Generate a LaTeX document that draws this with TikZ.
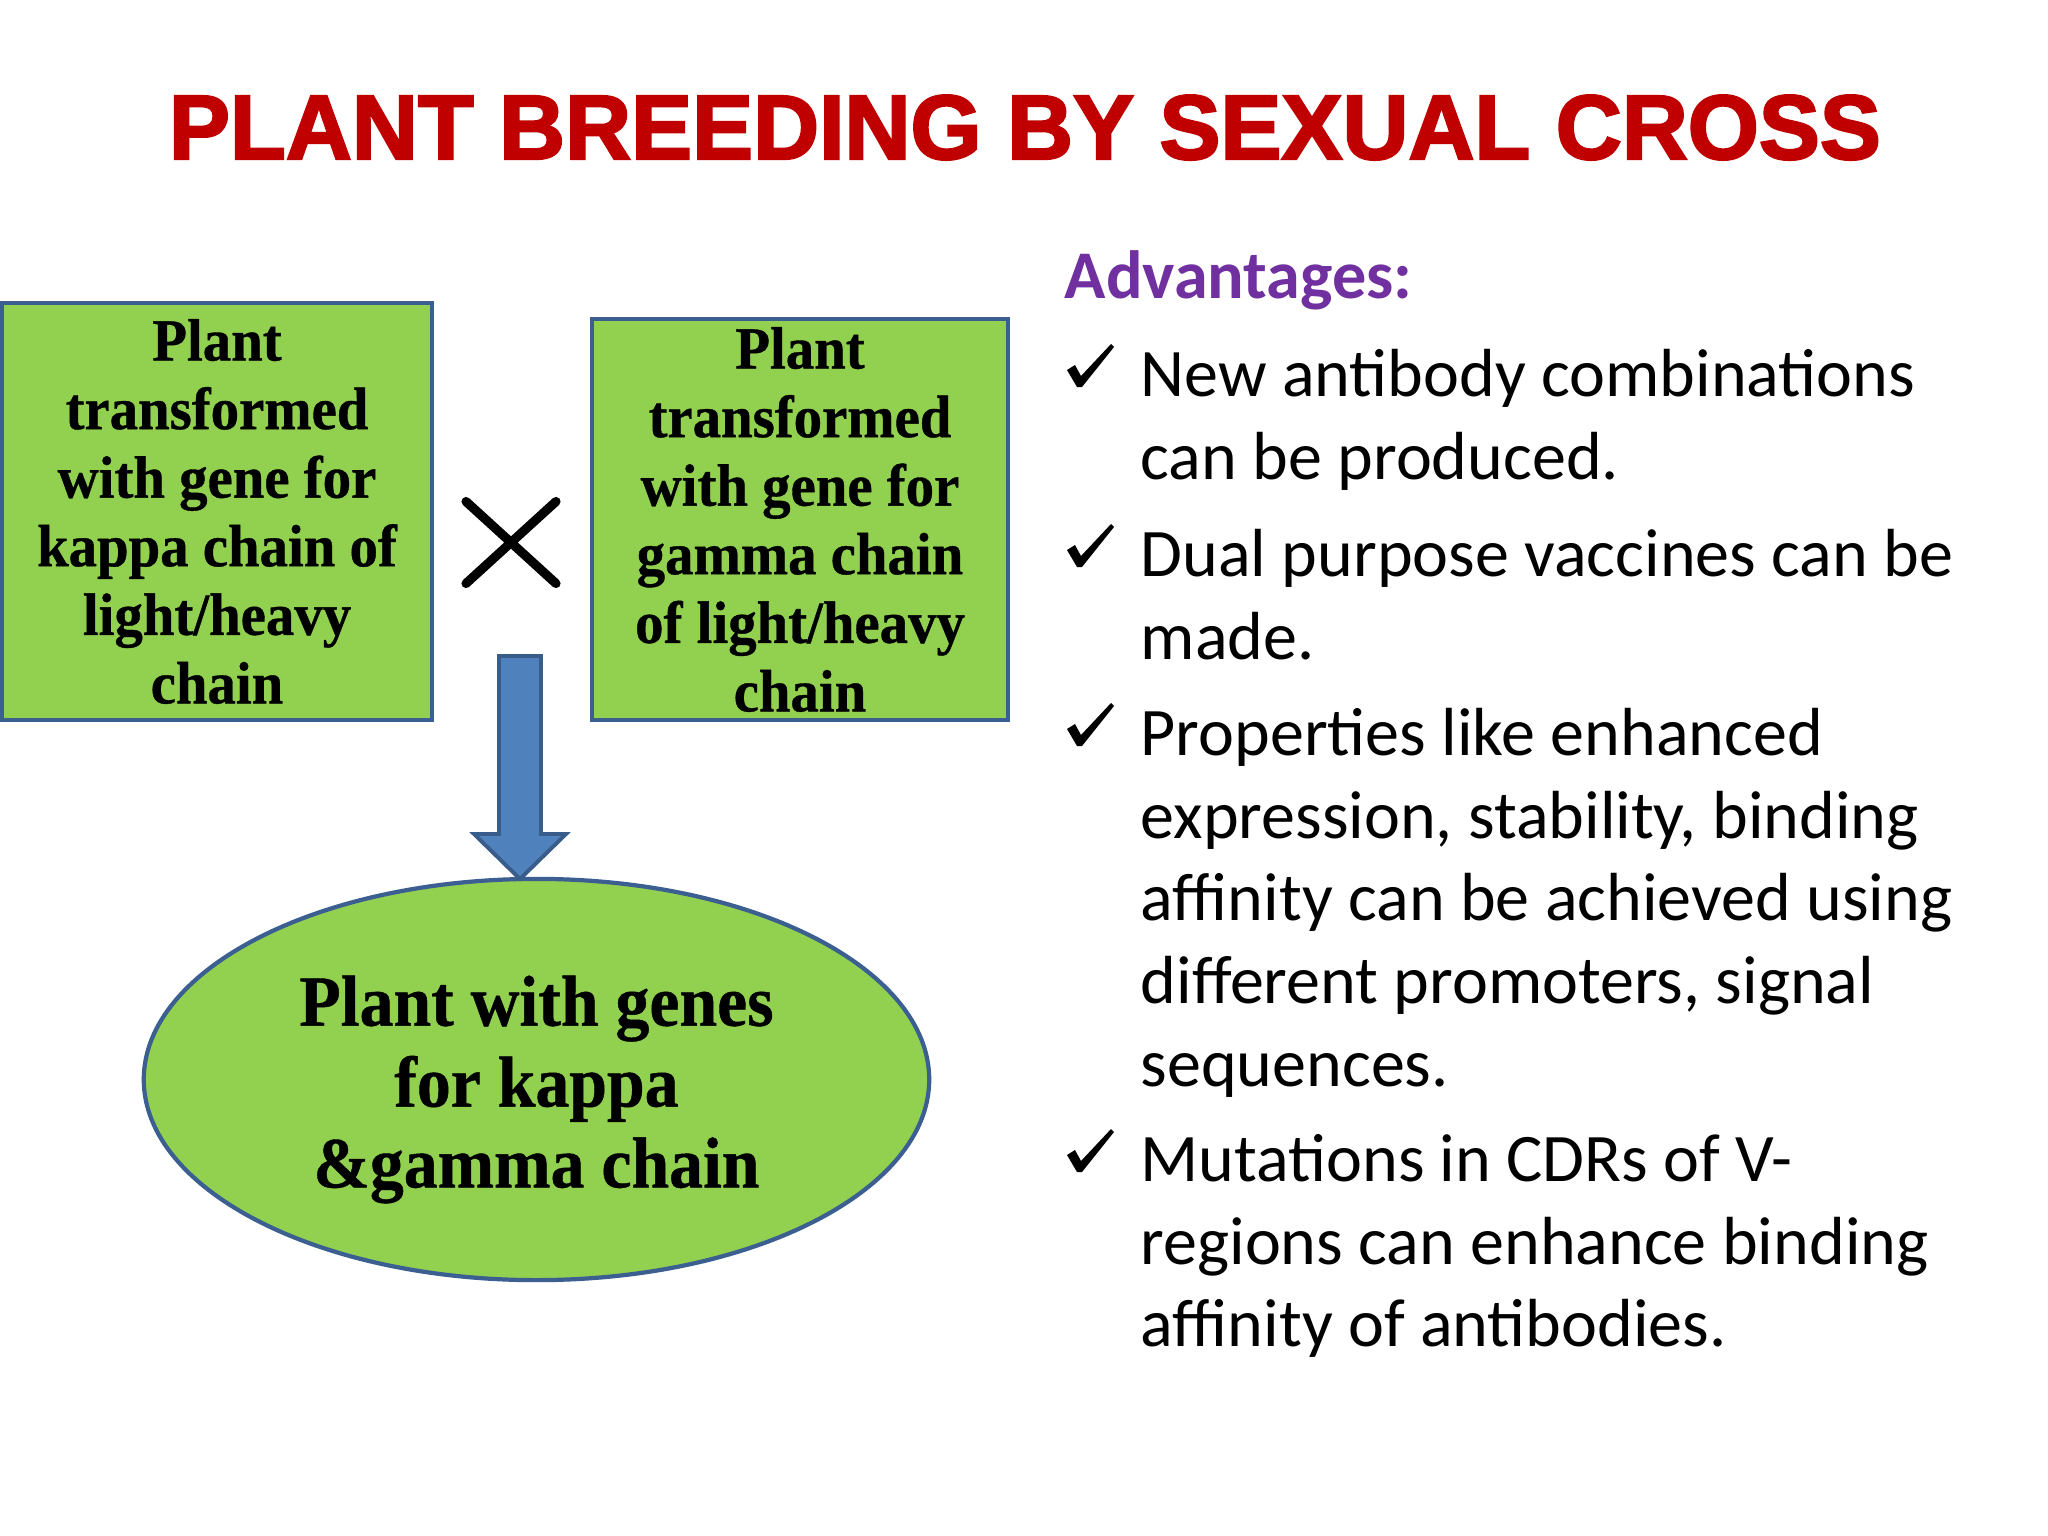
\documentclass[tikz,border=0pt]{standalone}
\usepackage{fontspec}
\setmainfont{Liberation Serif}
\newfontfamily\titlefont[BoldFeatures={FakeBold=2.5}]{Liberation Sans}
\newfontfamily\calfont{Carlito}
\newfontfamily\boxfont[FakeStretch=0.95,BoldFeatures={FakeBold=0.6}]{Liberation Serif}
\newfontfamily\ellfont[FakeStretch=0.94,BoldFeatures={FakeBold=0.6}]{Liberation Serif}
\usetikzlibrary{shapes.geometric,calc}
\definecolor{leaf}{HTML}{92D050}
\definecolor{edgeblue}{HTML}{3B5F91}
\definecolor{arrowfill}{HTML}{4F81BD}
\definecolor{arrowedge}{HTML}{385D8A}
\definecolor{titlered}{HTML}{C00000}
\definecolor{advpurple}{HTML}{7030A0}
\tikzset{
  gbox/.style={draw=edgeblue, line width=1.2pt, fill=leaf, inner sep=0pt, align=center,
    font=\boxfont\bfseries\fontsize{17}{19.5}\selectfont},
  gell/.style={ellipse, draw=edgeblue, line width=1.2pt, fill=leaf, inner sep=0pt},
  elltext/.style={inner sep=0pt, align=center, font=\ellfont\bfseries\fontsize{20.5}{23}\selectfont},
  blockarrow/.style={fill=arrowfill, draw=arrowedge, line width=1.1pt, line join=miter},
  crossline/.style={line width=2.6pt, line cap=round, black},
  bul/.style={anchor=base west, inner sep=0pt, font=\calfont\fontsize{19.35}{23.5}\selectfont},
  checkmark/.pic={\fill[black] (0,-17) -- (8,-22) -- (14,-11) -- (44,-43) -- (47,-40) -- (15,0) -- (10,0) -- cycle;},
}
\begin{document}
\begin{tikzpicture}[x=0.01cm,y=-0.01cm]
\useasboundingbox (0,0) rectangle (2048,1536);
\fill[white] (0,0) rectangle (2048,1536);

\node[anchor=base, inner sep=0pt, text=titlered, font=\titlefont\bfseries\fontsize{26}{30}\selectfont]
  (title) at (1025,159) {PLANT BREEDING BY SEXUAL CROSS};

\node[gbox, minimum width=4.30cm, minimum height=4.17cm] (boxL) at (217,511.5)
  {Plant\\transformed\\with gene for\\kappa chain of\\light/heavy\\chain};
\node[gbox, minimum width=4.16cm, minimum height=4.01cm] (boxR) at (800,519.5)
  {Plant\\transformed\\with gene for\\gamma chain\\of light/heavy\\chain};

\coordinate (cross) at (511,542.5);
\draw[crossline] ($(cross)+(-45,-41)$) -- ($(cross)+(45,41)$);
\draw[crossline] ($(cross)+(-45,41)$) -- ($(cross)+(45,-41)$);

\node[gell, minimum width=7.85cm, minimum height=4.01cm] (ell) at (536.5,1079.5) {};
\node[elltext] (elltxt) at ($(ell.center)+(0,10)$) {Plant with genes\\for kappa\\\&gamma chain};

\coordinate (tip) at (520,879);
\coordinate (atop) at (520,656);
\draw[blockarrow] ($(atop)+(-21,0)$) -- ($(atop)+(21,0)$) -- ($(tip)+(21,-45)$) -- ($(tip)+(46,-45)$)
  -- (tip) -- ($(tip)+(-46,-45)$) -- ($(tip)+(-21,-45)$) -- cycle;

\node[anchor=base west, inner sep=0pt, text=advpurple, font=\calfont\bfseries\fontsize{19.4}{23}\selectfont]
  (adv) at (1064,298) {Advantages:};

\pic (c1) at (1067,387) {checkmark};
\node[bul] (b1) at (1140,396.5) {\parbox[t]{9cm}{New antibody combinations\\can be produced.}};
\pic (c2) at (1067,567) {checkmark};
\node[bul] (b2) at (1140,576.5) {\parbox[t]{9cm}{Dual purpose vaccines can be\\made.}};
\pic (c3) at (1067,746) {checkmark};
\node[bul] (b3) at (1140,755.5) {\parbox[t]{9cm}{Properties like enhanced\\expression, stability, binding\\affinity can be achieved using\\different promoters, signal\\sequences.}};
\pic (c4) at (1067,1172) {checkmark};
\node[bul] (b4) at (1140,1181.5) {\parbox[t]{9cm}{Mutations in CDRs of V-\\regions can enhance binding\\affinity of antibodies.}};
\end{tikzpicture}
\end{document}
